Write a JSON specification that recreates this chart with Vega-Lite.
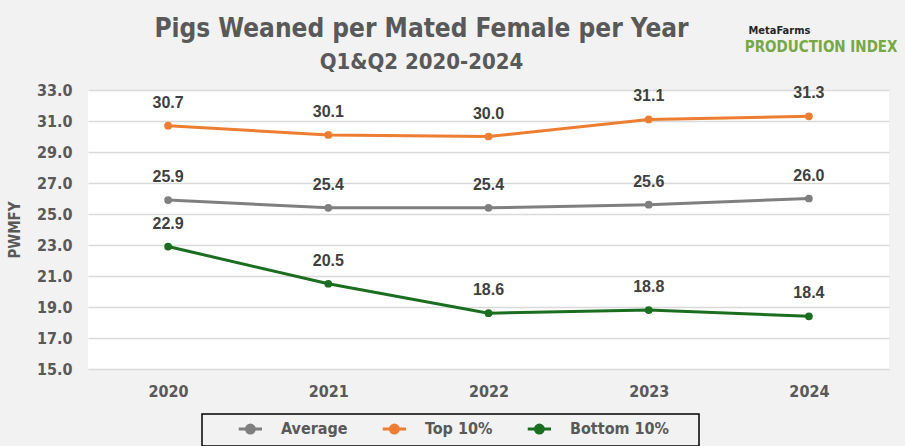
{
  "$schema": "https://vega.github.io/schema/vega-lite/v6.json",
  "width": 801,
  "height": 279,
  "autosize": "none",
  "padding": {"left": 88, "top": 90, "right": 16, "bottom": 77},
  "background": "#f2f2f2",
  "config": {
    "view": {"fill": "white", "stroke": null},
    "font": "DejaVu Sans Condensed, sans-serif",
    "legend": {"strokeColor": "black", "strokeWidth": 1.5}
  },
  "title": {
    "text": "Pigs Weaned per Mated Female per Year",
    "subtitle": "Q1&Q2 2020-2024",
    "anchor": "middle",
    "dx": -67,
    "offset": -49,
    "fontSize": 26,
    "fontWeight": "bold",
    "color": "#595959",
    "subtitleFontSize": 22,
    "subtitleFontWeight": "bold",
    "subtitleColor": "#595959",
    "subtitlePadding": 10
  },
  "data": {
    "values": [
      {"year": "2020", "series": "Average", "value": 25.9},
      {"year": "2021", "series": "Average", "value": 25.4},
      {"year": "2022", "series": "Average", "value": 25.4},
      {"year": "2023", "series": "Average", "value": 25.6},
      {"year": "2024", "series": "Average", "value": 26.0},
      {"year": "2020", "series": "Top 10%", "value": 30.7},
      {"year": "2021", "series": "Top 10%", "value": 30.1},
      {"year": "2022", "series": "Top 10%", "value": 30.0},
      {"year": "2023", "series": "Top 10%", "value": 31.1},
      {"year": "2024", "series": "Top 10%", "value": 31.3},
      {"year": "2020", "series": "Bottom 10%", "value": 22.9},
      {"year": "2021", "series": "Bottom 10%", "value": 20.5},
      {"year": "2022", "series": "Bottom 10%", "value": 18.6},
      {"year": "2023", "series": "Bottom 10%", "value": 18.8},
      {"year": "2024", "series": "Bottom 10%", "value": 18.4}
    ]
  },
  "encoding": {
    "y": {
      "field": "value",
      "type": "quantitative",
      "scale": {"domain": [15, 33], "nice": false, "zero": false},
      "axis": {
        "title": "PWMFY",
        "titleFontSize": 15,
        "titleFontWeight": "bold",
        "titleColor": "#595959",
        "titlePadding": 14,
        "values": [15, 17, 19, 21, 23, 25, 27, 29, 31, 33],
        "format": ".1f",
        "labelFontSize": 16,
        "labelFontWeight": "bold",
        "labelColor": "#595959",
        "labelPadding": 16,
        "ticks": false,
        "domain": false,
        "grid": true,
        "gridColor": "#d9d9d9",
        "gridWidth": 1.5
      }
    },
    "color": {
      "field": "series",
      "type": "nominal",
      "scale": {
        "domain": ["Average", "Top 10%", "Bottom 10%"],
        "range": ["#7f7f7f", "#ed7d31", "#1b6e1f"]
      },
      "legend": {
        "title": null,
        "orient": "none",
        "direction": "horizontal",
        "legendX": 114,
        "legendY": 324,
        "padding": 7,
        "labelFontSize": 16,
        "labelFontWeight": "bold",
        "labelColor": "#595959",
        "labelExpr": "datum.label == 'Bottom 10%' ? datum.label + '\u2800\u2800' : datum.label",
        "symbolType": "M3.55,0L7.35,0M6.1,0A0.65,0.65,0,1,1,4.8,0A0.65,0.65,0,1,1,6.1,0",
        "symbolSize": 150,
        "symbolStrokeWidth": 3,
        "columnPadding": 5,
        "labelOffset": 56
      }
    }
  },
  "layer": [
    {
      "mark": {"type": "line", "strokeWidth": 3, "point": {"filled": true, "size": 60}},
      "encoding": {
        "x": {
          "field": "year",
          "type": "ordinal",
          "scale": {"type": "point", "padding": 0.5},
          "axis": {
            "title": null,
            "labelAngle": 0,
            "labelFontSize": 16,
            "labelFontWeight": "bold",
            "labelColor": "#595959",
            "labelPadding": 14,
            "ticks": false,
            "domain": false
          }
        }
      }
    },
    {
      "mark": {
        "type": "text",
        "dy": -18,
        "baseline": "alphabetic",
        "font": "Liberation Sans",
        "fontSize": 16,
        "fontWeight": "bold",
        "color": "#404040"
      },
      "encoding": {
        "x": {
          "field": "year",
          "type": "ordinal",
          "scale": {"type": "point", "padding": 0.5},
          "axis": {
            "orient": "top",
            "labels": false,
            "ticks": false,
            "domain": false,
            "title": "PRODUCTION INDEX",
            "titleX": 809,
            "titleY": -36,
            "titleAlign": "right",
            "titleFont": "DejaVu Sans Condensed",
            "titleFontSize": 15,
            "titleFontWeight": "bold",
            "titleColor": "#76a844"
          }
        },
        "y": {
          "field": "value",
          "type": "quantitative",
          "axis": {
            "orient": "right",
            "labels": false,
            "ticks": false,
            "domain": false,
            "grid": false,
            "title": "MetaFarms",
            "titleAngle": 0,
            "titleX": -141,
            "titleY": -55,
            "titleAlign": "left",
            "titleFont": "DejaVu Sans Condensed",
            "titleFontSize": 11,
            "titleFontWeight": "bold",
            "titleColor": "#262626"
          }
        },
        "text": {"field": "value", "type": "quantitative", "format": ".1f"},
        "color": {"value": "#404040"}
      }
    }
  ],
  "resolve": {"axis": {"x": "independent", "y": "independent"}}
}
